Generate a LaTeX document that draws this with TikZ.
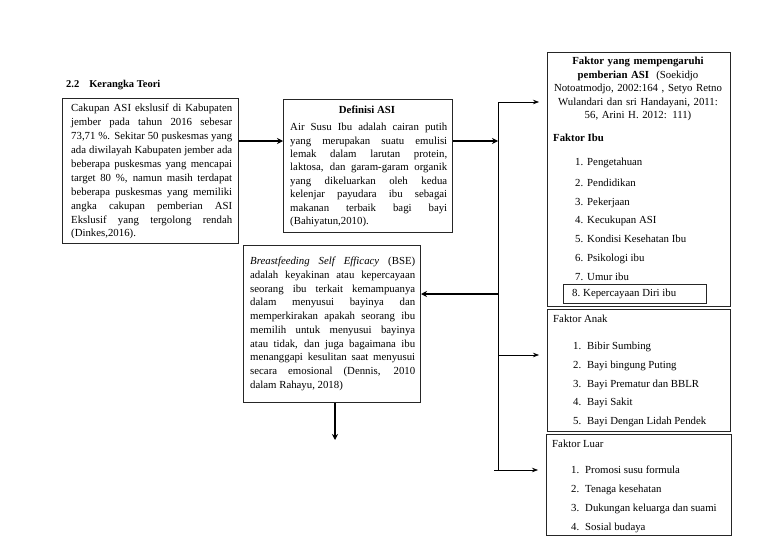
\documentclass[tikz,border=0pt]{standalone}
\usepackage{fontspec}
\setmainfont{Liberation Serif}
\usetikzlibrary{arrows.meta}
\begin{document}
\begin{tikzpicture}[x=1pt,y=-1pt,
  box/.style={draw=black!85, line width=1pt, inner sep=0pt, anchor=north west},
  txt/.style={inner sep=0pt, anchor=north west, align=justify,
    font=\fontsize{10.8}{13.9}\selectfont},
  lbl/.style={inner sep=0pt, anchor=base west, font=\fontsize{10.8}{12}\selectfont},
  fat/.style={line width=2.2pt, -{Stealth[length=6pt,width=6pt]}},
  thinarrow/.style={line width=0.7pt, -{Stealth[length=6pt,width=4.5pt]}},
  bus/.style={line width=0.7pt}]
\useasboundingbox (0,0) rectangle (768,543);
\fill[white] (0,0) rectangle (768,543);

% heading
\node[lbl, font=\fontsize{10.5}{12}\selectfont\bfseries] (head) at (66,87.5) {2.2\hspace{10pt}Kerangka Teori};

% boxes
\node[box, minimum width=176pt, minimum height=145pt] (cak) at (62,98) {};
\node[box, minimum width=169pt, minimum height=133pt] (def) at (283,99) {};
\node[box, minimum width=177pt, minimum height=157pt] (bse) at (243,245) {};
\node[box, minimum width=183pt, minimum height=254pt] (fib) at (547,52) {};
\node[box, minimum width=183pt, minimum height=122pt] (fan) at (547,309) {};
\node[box, minimum width=185pt, minimum height=101pt] (flu) at (546,434) {};
\node[box, minimum width=143pt, minimum height=19pt] (kd) at (563,284) {};

% left box text
\node[txt, text width=161pt] (cakt) at (71,104) {\tolerance=9999 Cakupan ASI ekslusif di Kabupaten\linebreak
jember pada tahun 2016 sebesar\linebreak
73,71 \%. Sekitar 50 puskesmas yang\linebreak
ada diwilayah Kabupaten jember ada\linebreak
beberapa puskesmas yang mencapai\linebreak
target 80 \%, namun masih terdapat\linebreak
beberapa puskesmas yang memiliki\linebreak
angka cakupan pemberian ASI\linebreak
Ekslusif yang tergolong rendah\linebreak
(Dinkes,2016).};

% definisi
\node[lbl, anchor=base, font=\fontsize{10.8}{12}\selectfont\bfseries] (deft) at (367,113.5) {Definisi ASI};
\node[txt, text width=157pt, font=\fontsize{10.8}{13.4}\selectfont] (defb) at (290,123) {\tolerance=9999 Air Susu Ibu adalah cairan putih\linebreak
yang merupakan suatu emulisi\linebreak
lemak dalam larutan protein,\linebreak
laktosa, dan garam-garam organik\linebreak
yang dikeluarkan oleh kedua\linebreak
kelenjar payudara ibu sebagai\linebreak
makanan terbaik bagi bayi\linebreak
(Bahiyatun,2010).};

% BSE
\node[txt, text width=165pt, font=\fontsize{10.8}{13.7}\selectfont] (bset) at (250,257) {\tolerance=9999 \textit{Breastfeeding Self Efficacy} (BSE)\linebreak
adalah keyakinan atau kepercayaan\linebreak
seorang ibu terkait kemampuanya\linebreak
dalam menyusui bayinya dan\linebreak
memperkirakan apakah seorang ibu\linebreak
memilih untuk menyusui bayinya\linebreak
atau tidak, dan juga bagaimana ibu\linebreak
menanggapi kesulitan saat menyusui\linebreak
secara emosional (Dennis, 2010\linebreak
dalam Rahayu, 2018)};

% Faktor Ibu box
\node[txt, anchor=north, align=center, text width=180pt, font=\fontsize{10.8}{13.5}\selectfont] (fibt) at (638,57)
{\textbf{Faktor yang mempengaruhi}\\ \textbf{pemberian ASI}\ \ (Soekidjo\\ Notoatmodjo, 2002:164 , Setyo Retno\\ Wulandari dan sri Handayani, 2011:\\ 56, Arini H. 2012: 111)};
\node[lbl, font=\fontsize{10.8}{12}\selectfont\bfseries] (fibh) at (553,141.5) {Faktor Ibu};
\foreach \n/\y/\t in {1/165.5/Pengetahuan, 2/186/Pendidikan, 3/205.5/Pekerjaan, 4/223.5/Kecukupan ASI,
  5/242.5/Kondisi Kesehatan Ibu, 6/261.5/Psikologi ibu, 7/280.5/Umur ibu}{
  \node[lbl] (ibn\n) at (575,\y) {\n.};
  \node[lbl] (ibt\n) at (587,\y) {\t};
}
\node[lbl] (ibn8) at (572,296.5) {8.};
\node[lbl] (ibt8) at (583,296.5) {Kepercayaan Diri ibu};

% Faktor Anak
\node[lbl] (fanh) at (553,322.5) {Faktor Anak};
\foreach \n/\y/\t in {1/349.5/Bibir Sumbing, 2/368.5/Bayi bingung Puting, 3/387.5/Bayi Prematur dan BBLR,
  4/405.5/Bayi Sakit, 5/424.5/Bayi Dengan Lidah Pendek}{
  \node[lbl] (ann\n) at (573,\y) {\n.};
  \node[lbl] (ant\n) at (587,\y) {\t};
}

% Faktor Luar
\node[lbl] (fluh) at (552,447.5) {Faktor Luar};
\foreach \n/\y/\t in {1/473.5/Promosi susu formula, 2/492.5/Tenaga kesehatan, 3/511.5/Dukungan keluarga dan suami,
  4/530.5/Sosial budaya}{
  \node[lbl] (lun\n) at (571,\y) {\n.};
  \node[lbl] (lut\n) at (585,\y) {\t};
}

% connectors
\coordinate (r1) at (0,141);
\coordinate (r2) at (0,294);
\coordinate (r3) at (0,355);
\coordinate (bt) at (498,102);
\coordinate (bb) at (498,470);
\coordinate (dn) at (335,440);
\draw[fat] (cak.east |- r1) -- (def.west |- r1);
\draw[fat] (def.east |- r1) -- (bt |- r1);
\draw[bus] (bt) -- (bb);
\draw[thinarrow] (bt) -- ([xshift=-8pt]fib.west |- bt);
\draw[fat] (bt |- r2) -- (bse.east |- r2);
\draw[thinarrow] (bt |- r3) -- ([xshift=-8pt]fan.west |- r3);
\draw[thinarrow] ([xshift=-4pt]bb) -- ([xshift=-8pt]flu.west |- bb);
\draw[fat] (dn |- bse.south) -- (dn);
\end{tikzpicture}
\end{document}
